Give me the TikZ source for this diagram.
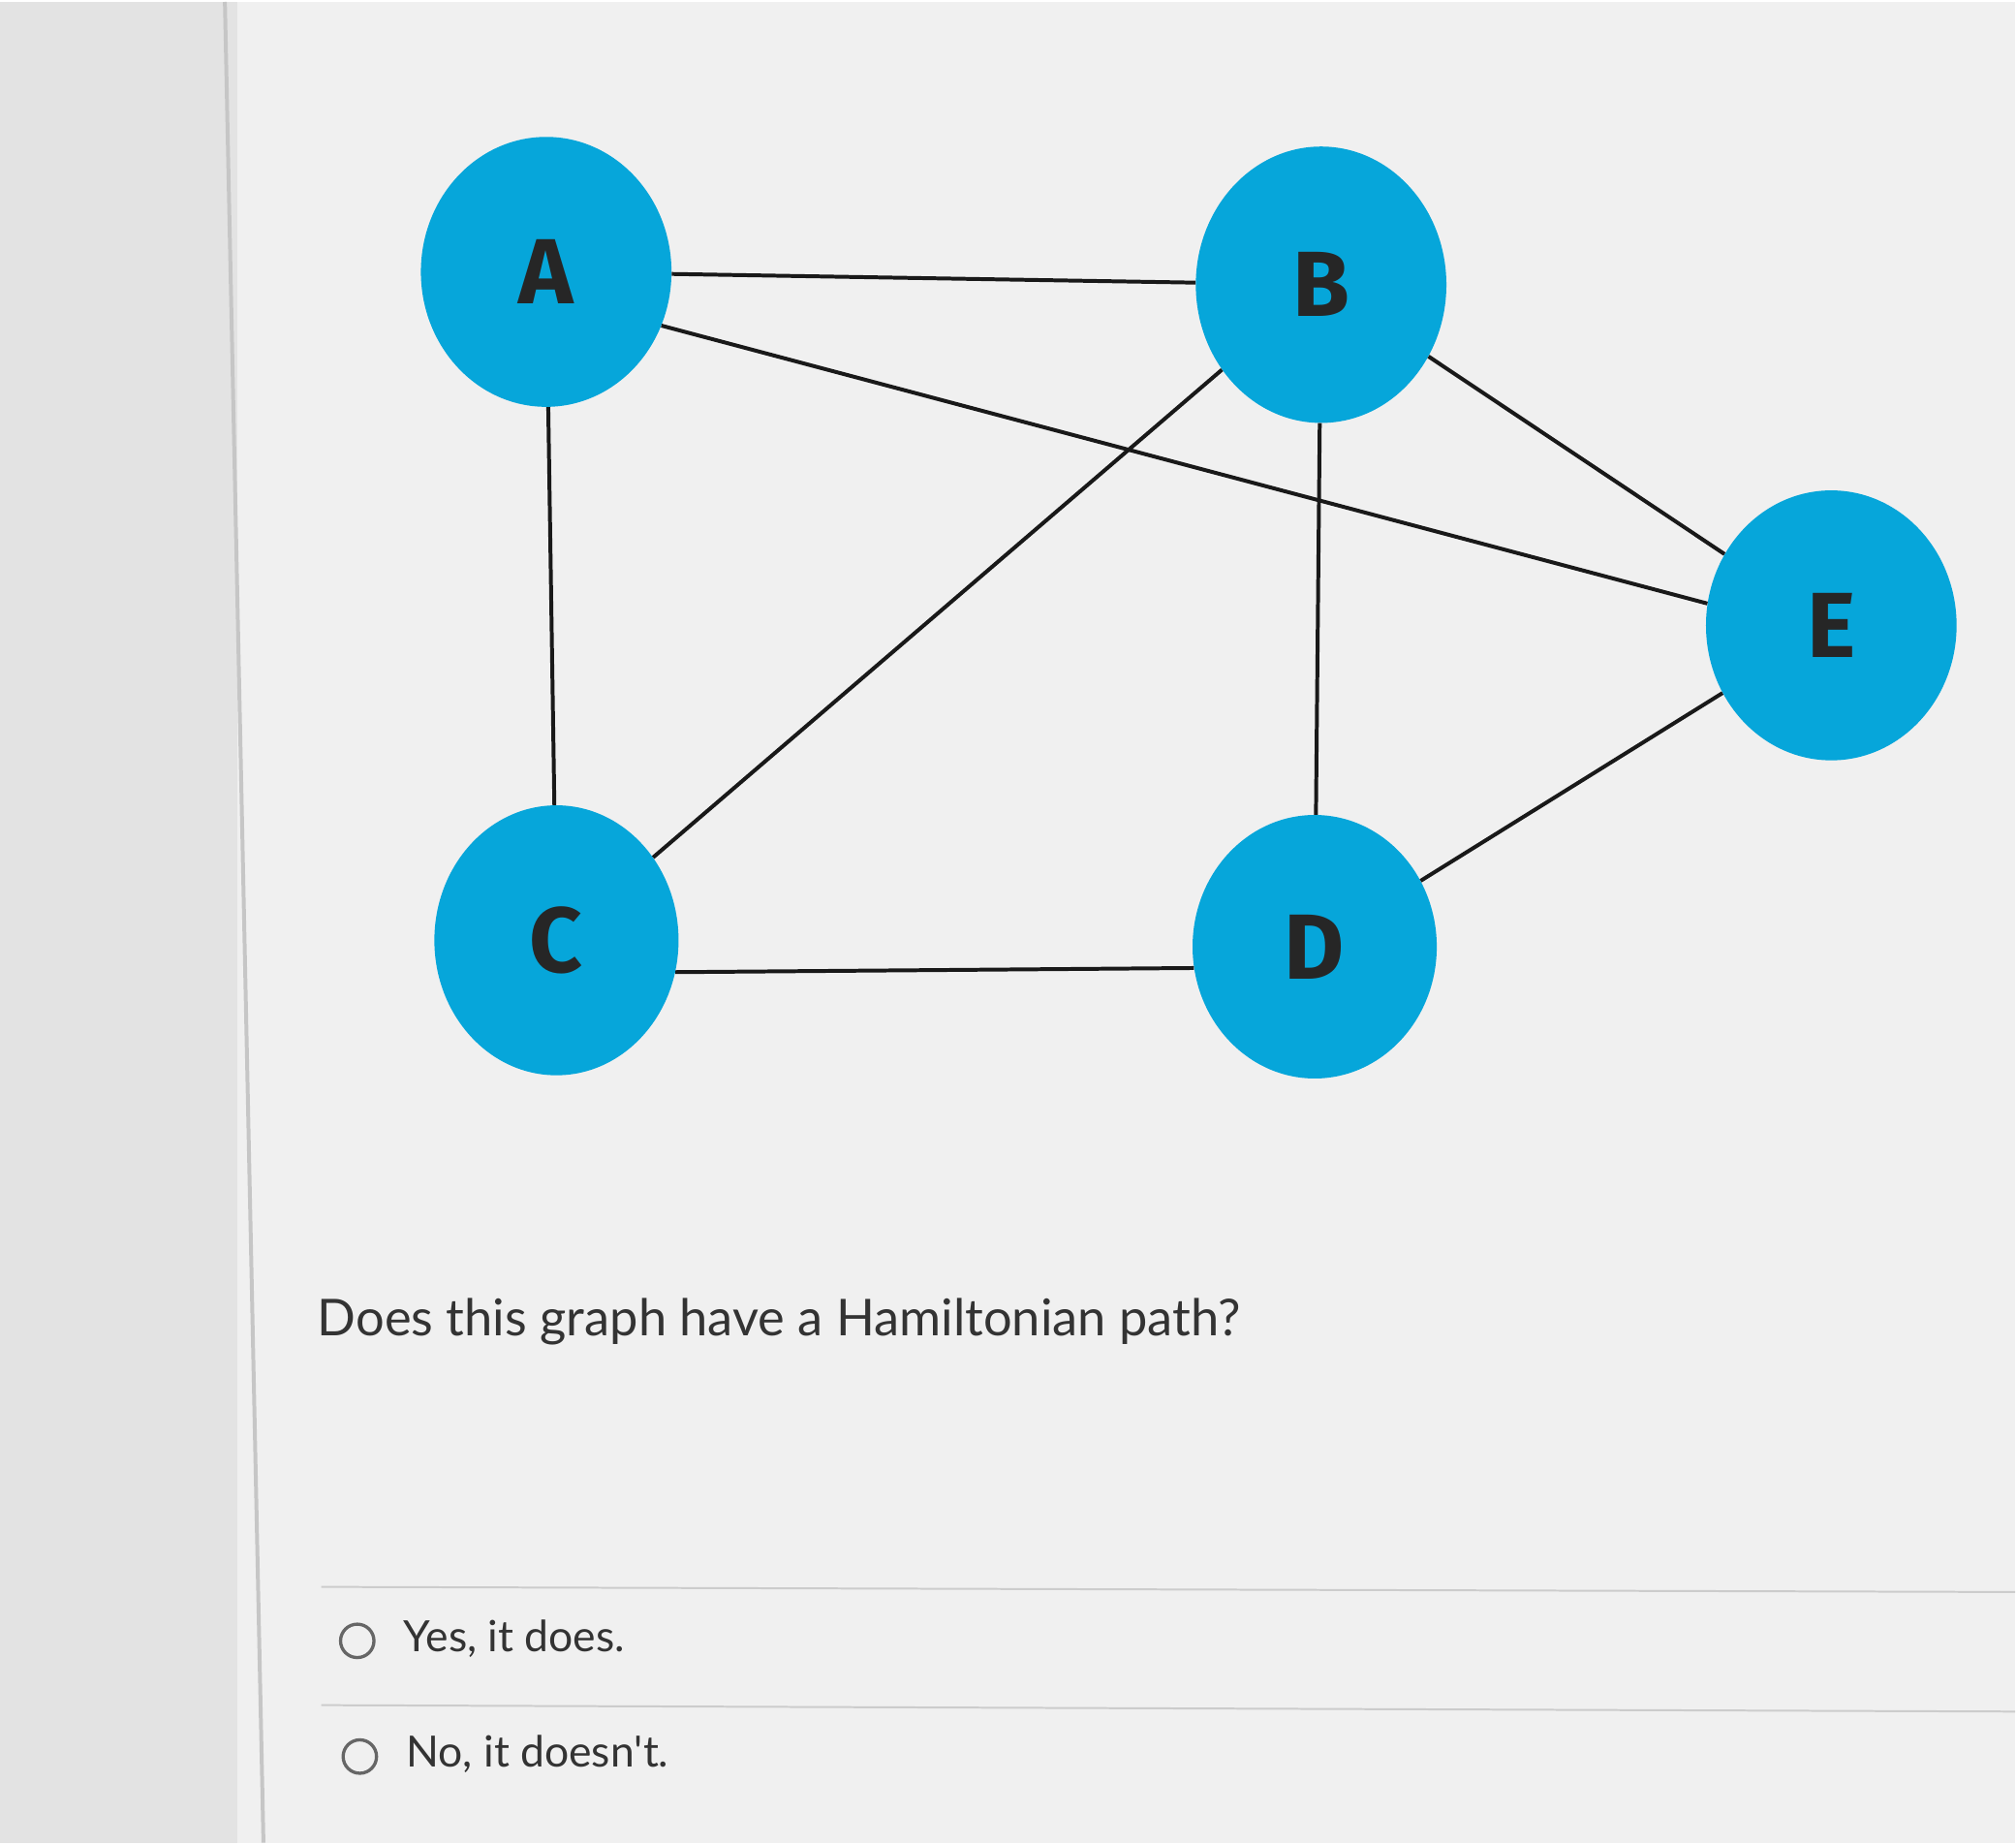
\documentclass[tikz,border=0pt]{standalone}
\usepackage{fontspec}
\setmainfont{Lato}
\newfontfamily\letterfont{Fira Sans}
\usetikzlibrary{shapes.geometric}
\begin{document}
\begin{tikzpicture}[x=1pt,y=-1pt,
  vert/.style={ellipse,fill=vcol,minimum width=195pt,minimum height=210pt,inner sep=0pt,font=\letterfont\bfseries\fontsize{72}{72}\selectfont,text=black!85},
  edge/.style={line width=3pt,black!90},
  radio/.style={circle,draw=gray!80!black,line width=2.5pt,minimum size=26pt,inner sep=0pt},
  txt/.style={font=\fontsize{39.5}{44}\selectfont,text=black!80,anchor=west,inner sep=0pt},
  opt/.style={txt,font=\fontsize{33.5}{38}\selectfont}]
\definecolor{vcol}{HTML}{06A6DA}
\fill[gray!12] (0,0) rectangle (1568,1432);
\fill[gray!22] (0,0) rectangle (185,1432);
\draw[gray!45,line width=3pt] (175,0) -- (205,1432);
\draw[gray!40,line width=1.5pt] (250,1233) -- (1568,1237);
\draw[gray!40,line width=1.5pt] (250,1325) -- (1568,1330);
\node[vert] (A) at (425,210) {A};
\node[vert,minimum height=215pt] (B) at (1028,220) {B};
\node[vert,minimum width=190pt] (C) at (433,730) {C};
\node[vert,minimum width=190pt,minimum height=205pt] (D) at (1023,735) {D};
\node[vert] (E) at (1425,485) {E};
\draw[edge] (A) -- (B);
\draw[edge] (A.-25) -- (E.170);
\draw[edge] (A) -- (C);
\draw[edge] (B) -- (C);
\draw[edge] (B) -- (D);
\draw[edge] (B) -- (E);
\draw[edge] (C.-15) -- (D.190);
\draw[edge] (D) -- (E);
\node[txt] (q) at (247,1027) {Does this graph have a Hamiltonian path?};
\node[radio] (r1) at (278,1275) {};
\node[opt] (y) at (314,1273) {Yes, it does.};
\node[radio] (r2) at (280,1365) {};
\node[opt] (n) at (316,1363) {No, it doesn\textquotesingle t.};
\end{tikzpicture}
\end{document}
